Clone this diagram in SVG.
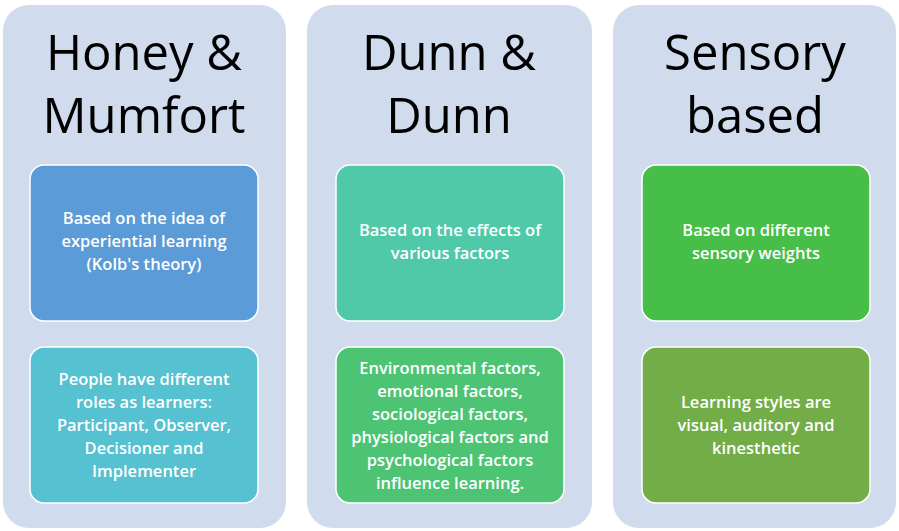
<svg xmlns="http://www.w3.org/2000/svg" width="899" height="531" viewBox="0 0 899 531">
<style>
.panel{fill:#D1DBEE}
.box{stroke:#fff;stroke-width:1.5}
.t{font-family:"Open Sans","Liberation Sans",sans-serif;font-size:49px;fill:#000;text-anchor:middle}
.b{font-family:"Open Sans","Liberation Sans",sans-serif;font-size:16.5px;font-weight:600;fill:#fff;text-anchor:middle}
</style>
<rect width="899" height="531" fill="#fff"/>
<g id="col1">
<rect class="panel" x="3" y="5" width="283" height="523" rx="26"/>
<text class="t" x="144" y="70">Honey &amp;</text>
<text class="t" x="144" y="133">Mumfort</text>
</g>
<g id="col2">
<rect class="panel" x="307" y="5" width="285" height="523" rx="26"/>
<text class="t" x="449" y="70">Dunn &amp;</text>
<text class="t" x="449" y="133">Dunn</text>
</g>
<g id="col3">
<rect class="panel" x="613" y="5" width="283" height="523" rx="26"/>
<text class="t" x="755" y="70">Sensory</text>
<text class="t" x="755" y="133">based</text>
</g>
<g id="n1">
<rect class="box" x="30" y="165" width="228" height="156" rx="14" fill="#5B9BD7"/>
<text class="b" x="144" y="224">Based on the idea of</text>
<text class="b" x="144" y="247">experiential learning</text>
<text class="b" x="144" y="270">(Kolb's theory)</text>
</g>
<g id="n2">
<rect class="box" x="30" y="347" width="228" height="156" rx="14" fill="#56C1D0"/>
<text class="b" x="144" y="385">People have different</text>
<text class="b" x="144" y="408">roles as learners:</text>
<text class="b" x="144" y="431">Participant, Observer,</text>
<text class="b" x="144" y="454">Decisioner and</text>
<text class="b" x="144" y="477">Implementer</text>
</g>
<g id="n3">
<rect class="box" x="336" y="165" width="228" height="156" rx="14" fill="#50C9A9"/>
<text class="b" x="450" y="236">Based on the effects of</text>
<text class="b" x="450" y="259">various factors</text>
</g>
<g id="n4">
<rect class="box" x="336" y="347" width="228" height="156" rx="14" fill="#4DC474"/>
<text class="b" x="450" y="374">Environmental factors,</text>
<text class="b" x="450" y="397">emotional factors,</text>
<text class="b" x="450" y="420">sociological factors,</text>
<text class="b" x="450" y="443">physiological factors and</text>
<text class="b" x="450" y="466">psychological factors</text>
<text class="b" x="450" y="489">influence learning.</text>
</g>
<g id="n5">
<rect class="box" x="642" y="165" width="228" height="156" rx="14" fill="#47BE48"/>
<text class="b" x="756" y="236">Based on different</text>
<text class="b" x="756" y="259">sensory weights</text>
</g>
<g id="n6">
<rect class="box" x="642" y="347" width="228" height="156" rx="14" fill="#72AD48"/>
<text class="b" x="756" y="408">Learning styles are</text>
<text class="b" x="756" y="431">visual, auditory and</text>
<text class="b" x="756" y="454">kinesthetic</text>
</g>
<g id="connectors"></g>
</svg>
